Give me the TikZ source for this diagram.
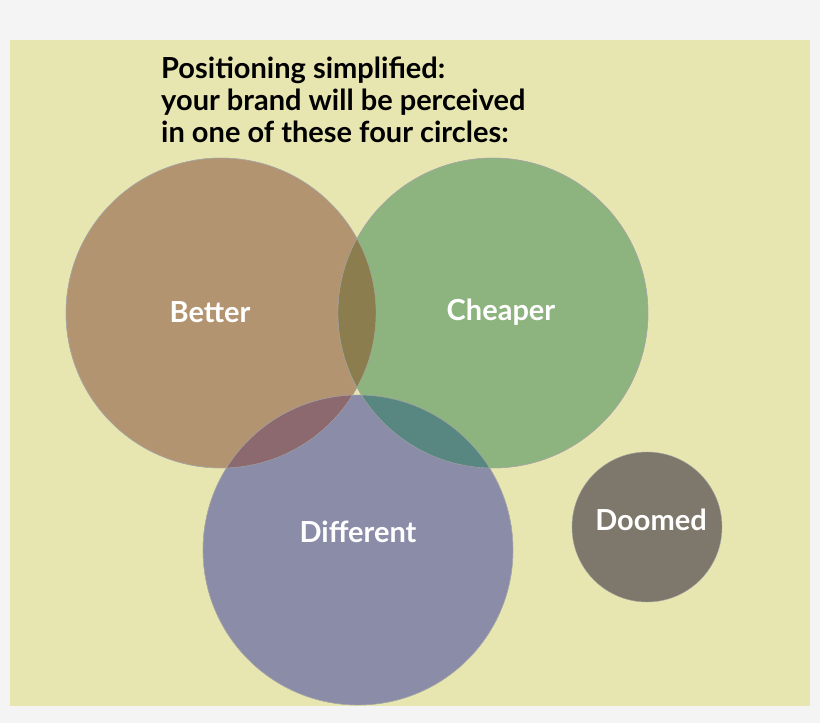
\documentclass[tikz,border=0pt]{standalone}
\usepackage{fontspec}
\setmainfont{Lato}
\definecolor{bgout}{RGB}{244,244,244}
\definecolor{bgin}{RGB}{232,230,176}
\definecolor{cbet}{RGB}{179,148,112}
\definecolor{cche}{RGB}{141,180,127}
\definecolor{cdif}{RGB}{138,140,168}
\definecolor{cdoom}{RGB}{125,120,107}
\definecolor{cbc}{RGB}{139,125,78}
\definecolor{cbd}{RGB}{140,105,110}
\definecolor{ccd}{RGB}{88,134,128}
\definecolor{cbcd}{RGB}{95,110,95}
\begin{document}
\begin{tikzpicture}[x=1pt,y=-1pt,
  circ/.style={circle,draw=black!35,line width=0.4pt,minimum size=310pt,inner sep=0pt},
  lbl/.style={text=white,font=\bfseries\fontsize{29}{32}\selectfont}]
\fill[bgout] (0,0) rectangle (820,723);
\fill[bgin] (10,40) rectangle (810,706);
\node[circ,fill=cbet] (better) at (221,313) {};
\node[circ,fill=cche] (cheaper) at (493,313) {};
\node[circ,fill=cdif] (diff) at (358,550) {};
\begin{scope}\clip (221,313) circle (155);\fill[cbc] (493,313) circle (155);\end{scope}
\begin{scope}\clip (221,313) circle (155);\fill[cbd] (358,550) circle (155);\end{scope}
\begin{scope}\clip (493,313) circle (155);\fill[ccd] (358,550) circle (155);\end{scope}
\begin{scope}\clip (493,313) circle (155);\clip (221,313) circle (155);\fill[cbcd] (358,550) circle (155);\end{scope}
\draw[black!35,line width=0.4pt] (221,313) circle (155) (493,313) circle (155) (358,550) circle (155);
\node[circle,draw=black!35,fill=cdoom,minimum size=150pt,inner sep=0pt] (doom) at (647,527) {};
\node[lbl] at (210,312) {Better};
\node[lbl] at (501,312) {Cheaper};
\node[lbl] at (358,532) {Different};
\node[lbl] at (651,520) {Doomed};
\node[anchor=north west,align=left,font=\bfseries\fontsize{29}{32}\selectfont,inner sep=0pt] (title) at (161,57)
 {Positioning simplified:\\your brand will be perceived\\in one of these four circles:};
\end{tikzpicture}
\end{document}
